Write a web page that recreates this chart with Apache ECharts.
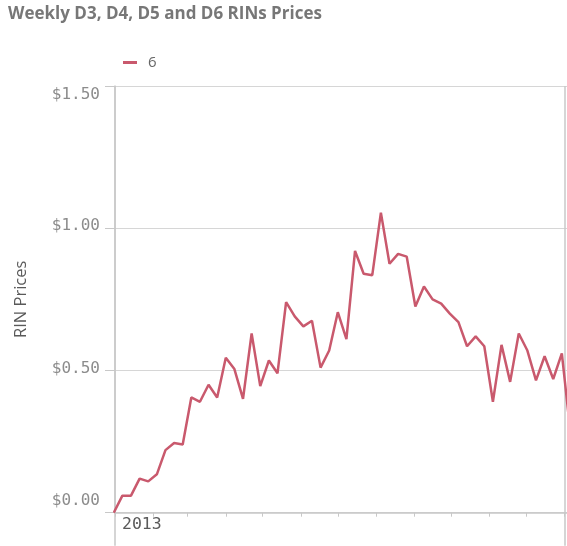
<!DOCTYPE html>
<html>
<head>
<meta charset="utf-8">
<title>Weekly D3, D4, D5 and D6 RINs Prices</title>
<script src="https://cdn.jsdelivr.net/npm/echarts@6/dist/echarts.min.js"></script>
<style>
  html, body { margin: 0; padding: 0; background: #fff; }
  #chart { width: 567px; height: 546px; }
</style>
</head>
<body>
<div id="chart"></div>
<script>
// weekly dates (Mondays)
const weeks = [
    '2012-12-31', '2013-01-07', '2013-01-14', '2013-01-21', '2013-01-28',
    '2013-02-04', '2013-02-11', '2013-02-18', '2013-02-25',
    '2013-03-04', '2013-03-11', '2013-03-18', '2013-03-25',
    '2013-04-01', '2013-04-08', '2013-04-15', '2013-04-22', '2013-04-29',
    '2013-05-06', '2013-05-13', '2013-05-20', '2013-05-27',
    '2013-06-03', '2013-06-10', '2013-06-17', '2013-06-24',
    '2013-07-01', '2013-07-08', '2013-07-15', '2013-07-22', '2013-07-29',
    '2013-08-05', '2013-08-12', '2013-08-19', '2013-08-26',
    '2013-09-02', '2013-09-09', '2013-09-16', '2013-09-23', '2013-09-30',
    '2013-10-07', '2013-10-14', '2013-10-21', '2013-10-28',
    '2013-11-04', '2013-11-11', '2013-11-18', '2013-11-25',
    '2013-12-02', '2013-12-09', '2013-12-16', '2013-12-23', '2013-12-30',
    '2014-01-06'
]
// D6 RIN price, $ per gallon
const d6Prices = [
    0.00, 0.06, 0.06, 0.12, 0.11,
    0.135, 0.22, 0.245, 0.24,
    0.405, 0.39, 0.45, 0.405,
    0.545, 0.505, 0.40, 0.63, 0.445,
    0.535, 0.49, 0.74, 0.69,
    0.655, 0.675, 0.51, 0.57,
    0.705, 0.61, 0.92, 0.84, 0.835,
    1.055, 0.875, 0.91, 0.90,
    0.725, 0.795, 0.75, 0.735, 0.70,
    0.67, 0.585, 0.62, 0.585,
    0.39, 0.59, 0.46, 0.63,
    0.57, 0.465, 0.55, 0.47, 0.56,
    0.28
]
const monthTicks = [
    '2013-01-01', '2013-02-01', '2013-03-01', '2013-04-01', '2013-05-01', '2013-06-01',
    '2013-07-01', '2013-08-01', '2013-09-01', '2013-10-01', '2013-11-01', '2013-12-01',
    '2014-01-01'
]
const yearTicks = ['2013-01-01', '2014-01-01']
const yearLabels = ['2013-01-01']

// parse yyyy-mm-dd as local time
const toTime = (s) => {
    const p = s.split('-')
    return new Date(+p[0], +p[1] - 1, +p[2]).getTime()
}

const axisMin = toTime('2013-01-01')
const axisMax = toTime('2014-01-10')
const pxPerDay = 449.3 / 365
const yMin = 0
const yMax = 1.5

var myChart = echarts.init(document.getElementById('chart'), null, { renderer: 'canvas' })

const gridColor = '#d6d6d6'
const axisColor = '#c8c8c8'

option = {
    animation: false,
    title: {
        text: 'Weekly D3, D4, D5 and D6 RINs Prices',
        left: 8,
        top: 6,
        padding: 0,
        textStyle: {
            fontFamily: 'Open Sans',
            fontWeight: 'bold',
            fontSize: 17,
            color: '#777777'
        }
    },
    legend: {
        left: 123,
        top: 55,
        padding: 0,
        icon: 'rect',
        itemWidth: 14,
        itemHeight: 3,
        textStyle: {
            fontFamily: 'Open Sans',
            fontSize: 15,
            color: '#666666',
            padding: [0, 0, 0, 6]
        },
        data: ['6']
    },
    grid: {
        left: 115,
        top: 86,
        width: (axisMax - axisMin) / 86400000 * pxPerDay,
        height: 426.7,
        containLabel: false,
        outerBoundsMode: 'none'
    },
    xAxis: [{
        type: 'value',
        min: axisMin,
        max: axisMax,
        axisLine: { show: true, lineStyle: { color: axisColor, width: 1.5 } },
        axisTick: {
            show: true,
            length: 4,
            customValues: monthTicks.map(toTime),
            lineStyle: { color: axisColor, width: 1 }
        },
        axisLabel: { show: false },
        splitLine: { show: false }
    }, {
        type: 'value',
        position: 'bottom',
        min: axisMin,
        max: axisMax,
        axisLine: { show: false },
        axisTick: {
            show: true,
            length: 33,
            customValues: yearTicks.map(toTime),
            lineStyle: { color: axisColor, width: 1.5 }
        },
        axisLabel: {
            show: true,
            customValues: yearLabels.map(toTime),
            formatter: (val) => String(new Date(val).getFullYear()),
            align: 'left',
            verticalAlign: 'top',
            padding: [0, 0, 0, 7],
            margin: 4,
            fontFamily: 'DejaVu Sans Mono',
            fontSize: 16.5,
            color: '#5a5a5a'
        },
        splitLine: { show: true, lineStyle: { color: axisColor, width: 1.5 } }
    }],
    yAxis: {
        type: 'value',
        min: yMin,
        max: yMax,
        interval: 0.5,
        name: 'RIN Prices',
        nameLocation: 'middle',
        nameGap: 85,
        nameTextStyle: {
            fontFamily: 'Open Sans',
            fontSize: 16.5,
            color: '#595959'
        },
        axisLine: { show: true, lineStyle: { color: axisColor, width: 1.5 } },
        axisTick: {
            show: true,
            length: 10,
            lineStyle: { color: axisColor }
        },
        axisLabel: {
            margin: 15,
            fontFamily: 'DejaVu Sans Mono',
            fontSize: 16,
            color: '#8c8c8c',
            // end labels sit inside the plot, like the original
            formatter: (v) => {
                let s = '$' + v.toFixed(2)
                if (v === yMax) return '{top|' + s + '}'
                if (v === yMin) return '{bot|' + s + '}'
                return '{mid|' + s + '}'
            },
            rich: {
                top: { padding: [18, 0, 0, 0] },
                mid: { padding: [0, 0, 4, 0] },
                bot: { padding: [0, 0, 23, 0] }
            }
        },
        splitLine: { show: true, lineStyle: { color: gridColor, width: 1 } }
    },
    series: [{
        name: '6',
        type: 'line',
        xAxisIndex: 0,
        data: weeks.map((d, i) => [toTime(d), d6Prices[i]]),
        symbol: 'none',
        clip: true,
        itemStyle: { color: '#c9596d' },
        lineStyle: { color: '#c9596d', width: 2.5 }
    }]
}
myChart.setOption(option)
</script>
</body>
</html>
